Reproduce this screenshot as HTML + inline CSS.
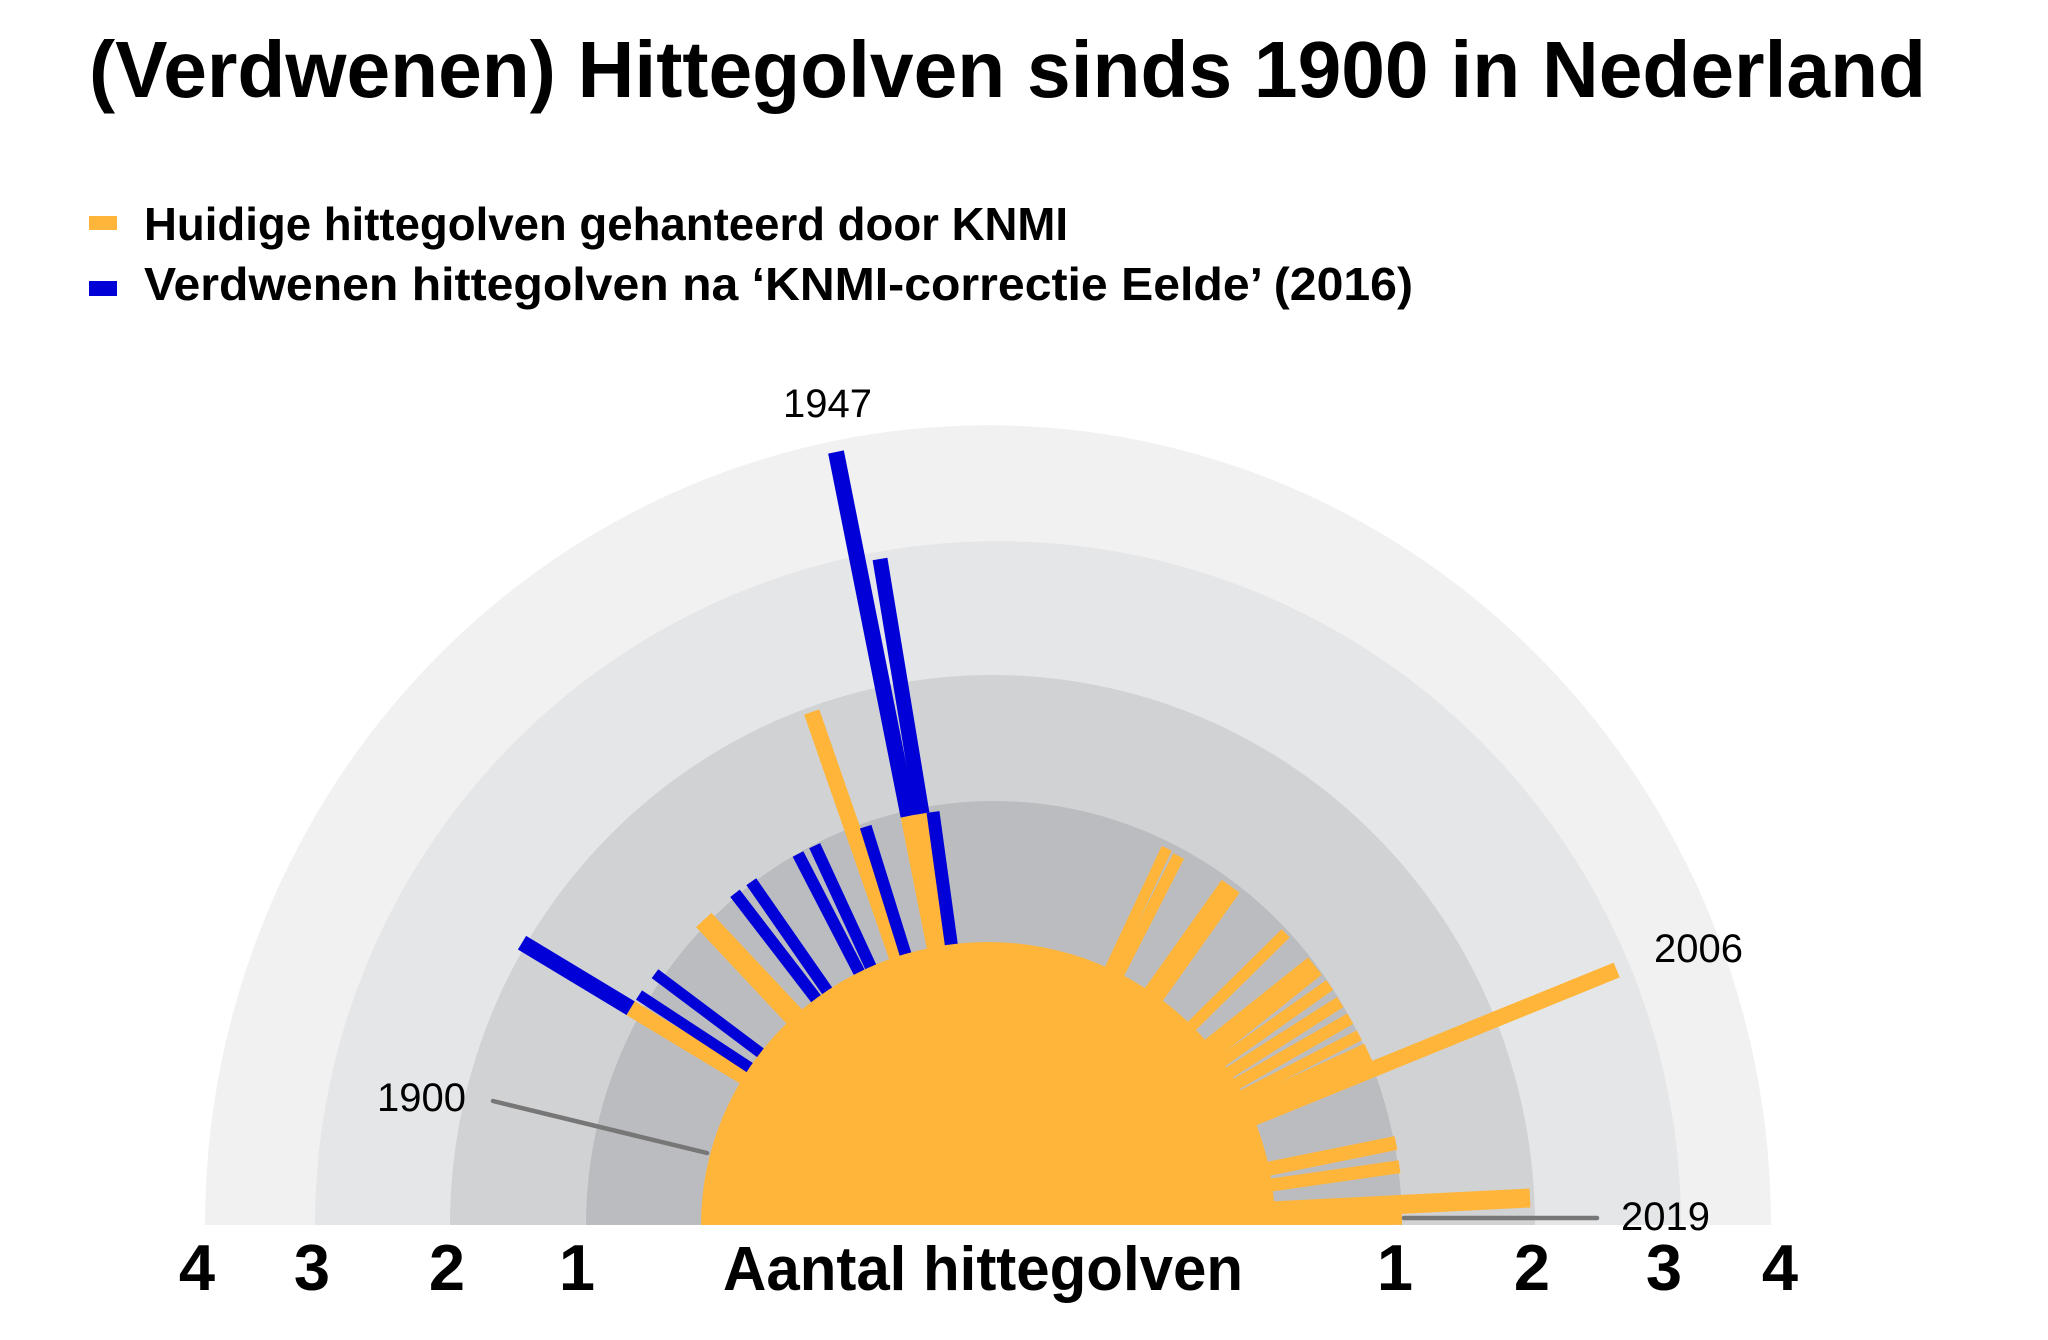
<!DOCTYPE html>
<html>
<head>
<meta charset="utf-8">
<style>
html,body{margin:0;padding:0;background:#fff;}
svg{display:block;}
.hw{font-family:"Liberation Sans",sans-serif;font-weight:bold;fill:#000;}
.lb{font-family:"Liberation Sans",sans-serif;font-size:40px;fill:#000;}
</style>
</head>
<body>
<svg width="2048" height="1340" viewBox="0 0 2048 1340" xmlns="http://www.w3.org/2000/svg">
<rect x="0" y="0" width="2048" height="1340" fill="#fff"/>

<!-- Title -->
<text class="hw" x="89" y="97" font-size="80" textLength="1837" lengthAdjust="spacingAndGlyphs">(Verdwenen) Hittegolven sinds 1900 in Nederland</text>

<!-- Legend -->
<rect x="89" y="216" width="28" height="14" fill="#FEB53A"/>
<text class="hw" x="144" y="240" font-size="46" textLength="924" lengthAdjust="spacingAndGlyphs">Huidige hittegolven gehanteerd door KNMI</text>
<rect x="89" y="281" width="28" height="15" fill="#0000D7"/>
<text class="hw" x="144" y="300" font-size="46" textLength="1269" lengthAdjust="spacingAndGlyphs">Verdwenen hittegolven na  ‘KNMI-correctie Eelde’  (2016)</text>

<!-- Rings -->
<path d="M205,1225 A783,800 0 0 1 1771,1225 Z" fill="#F1F1F1"/>
<path d="M315,1225 A683,684 0 0 1 1681,1225 Z" fill="#E5E6E8"/>
<path d="M450,1225 A542.5,550 0 0 1 1535,1225 Z" fill="#D1D2D4"/>
<path d="M586,1225 A408,424 0 0 1 1402,1225 Z" fill="#BBBCC0"/>

<!-- Bars -->
<g stroke-linecap="butt">
<!-- left side -->
<line x1="990" y1="1225" x2="630.6" y2="1008.2" stroke="#FEB53A" stroke-width="16"/>
<line x1="630.6" y1="1008.2" x2="522" y2="942.7" stroke="#0000D7" stroke-width="16"/>
<line x1="990" y1="1225" x2="639" y2="995" stroke="#0000D7" stroke-width="11"/>
<line x1="990" y1="1225" x2="655" y2="973.7" stroke="#0000D7" stroke-width="11"/>
<line x1="990" y1="1225" x2="703.7" y2="920" stroke="#FEB53A" stroke-width="21"/>
<line x1="990" y1="1225" x2="735" y2="893.3" stroke="#0000D7" stroke-width="12"/>
<line x1="990" y1="1225" x2="751.3" y2="881.7" stroke="#0000D7" stroke-width="12"/>
<line x1="990" y1="1225" x2="798" y2="854" stroke="#0000D7" stroke-width="12"/>
<line x1="990" y1="1225" x2="814.7" y2="845.7" stroke="#0000D7" stroke-width="12"/>
<line x1="990" y1="1225" x2="811.7" y2="712" stroke="#FEB53A" stroke-width="16"/>
<line x1="990" y1="1225" x2="865.7" y2="826.7" stroke="#0000D7" stroke-width="12"/>
<line x1="990" y1="1225" x2="908.5" y2="816" stroke="#FEB53A" stroke-width="16"/>
<line x1="908.5" y1="816" x2="836" y2="452" stroke="#0000D7" stroke-width="16"/>
<line x1="990" y1="1225" x2="922" y2="813.6" stroke="#FEB53A" stroke-width="15"/>
<line x1="922" y1="813.6" x2="880" y2="559" stroke="#0000D7" stroke-width="15"/>
<line x1="990" y1="1225" x2="933" y2="812" stroke="#0000D7" stroke-width="13"/>
<!-- right side -->
<line x1="990" y1="1225" x2="1166.7" y2="848.3" stroke="#FEB53A" stroke-width="11"/>
<line x1="990" y1="1225" x2="1178.7" y2="856" stroke="#FEB53A" stroke-width="12"/>
<line x1="990" y1="1225" x2="1230.7" y2="886.3" stroke="#FEB53A" stroke-width="22"/>
<line x1="990" y1="1225" x2="1285.7" y2="933.3" stroke="#FEB53A" stroke-width="11.5"/>
<line x1="990" y1="1225" x2="1315" y2="966" stroke="#FEB53A" stroke-width="22"/>
<line x1="990" y1="1225" x2="1329.7" y2="985" stroke="#FEB53A" stroke-width="12"/>
<line x1="990" y1="1225" x2="1340.3" y2="1002" stroke="#FEB53A" stroke-width="12"/>
<line x1="990" y1="1225" x2="1350.3" y2="1018.7" stroke="#FEB53A" stroke-width="12"/>
<line x1="990" y1="1225" x2="1359.3" y2="1035.3" stroke="#FEB53A" stroke-width="11"/>
<line x1="990" y1="1225" x2="1368.3" y2="1052.3" stroke="#FEB53A" stroke-width="19"/>
<line x1="990" y1="1225" x2="1616.7" y2="970" stroke="#FEB53A" stroke-width="16"/>
<line x1="990" y1="1225" x2="1396" y2="1143" stroke="#FEB53A" stroke-width="14"/>
<line x1="990" y1="1225" x2="1399.5" y2="1166.7" stroke="#FEB53A" stroke-width="13"/>
<line x1="990" y1="1225" x2="1530" y2="1198" stroke="#FEB53A" stroke-width="19"/>
<line x1="990" y1="1225" x2="1402" y2="1218.3" stroke="#FEB53A" stroke-width="13"/>
</g>

<!-- Center disc -->
<path d="M701,1225 A287,283 0 0 1 1275,1225 Z" fill="#FEB53A"/>
<!-- clear anything below baseline -->
<rect x="0" y="1225" width="2048" height="115" fill="#fff"/>

<!-- Leader lines -->
<line x1="493" y1="1101" x2="707" y2="1153" stroke="#777" stroke-width="4.5" stroke-linecap="round"/>
<line x1="1404" y1="1218" x2="1597" y2="1218" stroke="#777" stroke-width="4.5" stroke-linecap="round"/>

<!-- Year labels -->
<text class="lb" x="377" y="1111">1900</text>
<text class="lb" x="783" y="417">1947</text>
<text class="lb" x="1654" y="962">2006</text>
<text class="lb" x="1621" y="1230">2019</text>

<!-- Axis labels -->
<g class="hw" font-size="65" text-anchor="middle">
<text x="197" y="1290">4</text>
<text x="312" y="1290">3</text>
<text x="447" y="1290">2</text>
<text x="577" y="1290">1</text>
<text x="1395" y="1290">1</text>
<text x="1532" y="1290">2</text>
<text x="1664" y="1290">3</text>
<text x="1780" y="1290">4</text>
</g>
<text class="hw" x="723" y="1290" font-size="62" textLength="520" lengthAdjust="spacingAndGlyphs">Aantal hittegolven</text>
</svg>
</body>
</html>
